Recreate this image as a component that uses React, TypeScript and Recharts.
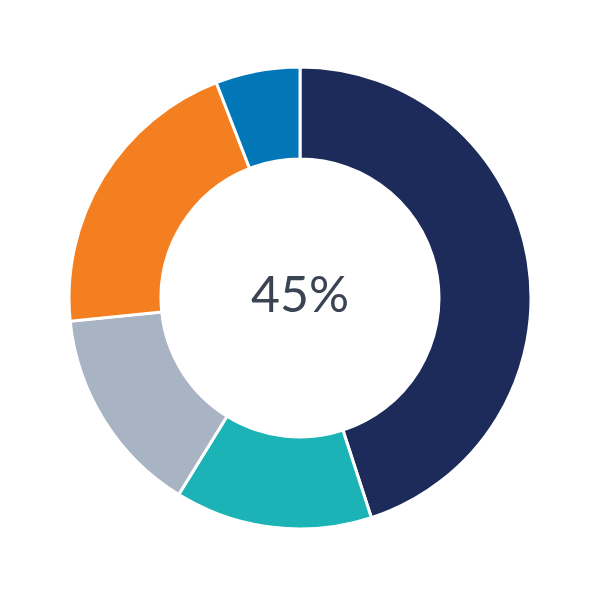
import { Cell, Label, Pie, PieChart } from "recharts";

const segments = ["Navy", "Teal", "Gray", "Orange", "Blue"];
const shares = [45, 13.8, 14.6, 20.7, 5.9];
const colors = ["#1c2b5a", "#1bb3b5", "#a8b3c3", "#f47f20", "#0277b8"];
const centerLabel = "45%";

const data = segments.map((name, i) => ({ name, value: shares[i] }));

const DonutChart = () => {
  return (
    <div style={{ width: 600, height: 599, background: "#fff" }}>
      <PieChart width={600} height={599} margin={{ top: 0, right: 0, bottom: 0, left: 0 }}>
        <Pie
          data={data}
          dataKey="value"
          nameKey="name"
          cx={292}
          cy={290}
          innerRadius={139}
          outerRadius={231}
          startAngle={90}
          endAngle={-270}
          stroke="#ffffff"
          strokeWidth={3}
          isAnimationActive={false}
        >
          {data.map((d, i) => (
            <Cell key={d.name} fill={colors[i]} />
          ))}
          <Label
            value={centerLabel}
            position="center"
            fill="#3a4452"
            dx={-8}
            dy={-13}
            style={{ fontFamily: "Lato, sans-serif", fontSize: 50 }}
          />
        </Pie>
      </PieChart>
    </div>
  );
};

export default DonutChart;
